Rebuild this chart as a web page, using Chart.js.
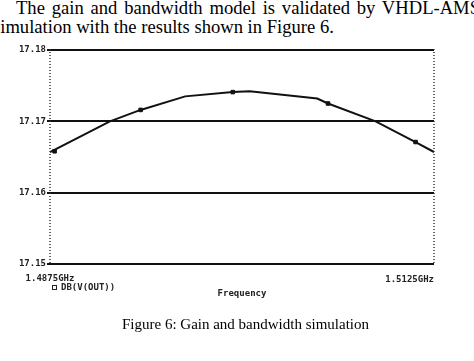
<!DOCTYPE html>
<html>
<head>
<meta charset="utf-8">
<script src="https://cdn.jsdelivr.net/npm/chart.js@4/dist/chart.umd.min.js"></script>
<style>
  html, body { margin: 0; padding: 0; background: #fff; overflow: hidden; }
  body { position: relative; width: 474px; height: 361px; }
  .serif { position: absolute; font-family: "Liberation Serif", "DejaVu Serif", serif; color: #000; white-space: nowrap; line-height: 1; }
  #line1 { left: 16px; top: -1px; width: 464px; font-size: 18.6px; text-align: justify; text-align-last: justify; }
  #line2 { left: -7px; top: 18px; font-size: 18.6px; }
  #caption { left: 0; width: 491px; top: 317px; font-size: 15px; text-align: center; }
  #chart { position: absolute; left: 0; top: 0; }
</style>
</head>
<body>
<div class="serif" id="line1">The gain and bandwidth model is validated by VHDL-AMS</div>
<div class="serif" id="line2">simulation with the results shown in Figure 6.</div>
<canvas id="chart" width="474" height="361"></canvas>
<div class="serif" id="caption">Figure 6: Gain and bandwidth simulation</div>

<script>
// curve: frequency (GHz) vs gain (dB)
const freqs = [1.4875, 1.4914, 1.4934, 1.4963, 1.4994, 1.5005, 1.5049, 1.5056, 1.5087, 1.5113, 1.5125];
const gains = [17.1657, 17.1700, 17.1716, 17.1735, 17.1741, 17.1742, 17.1732, 17.1725, 17.1700, 17.1671, 17.1657];

// square markers along the trace
const markerFreqs = [1.4878, 1.4934, 1.4994, 1.5056, 1.5113];
const markerGains = [17.1658, 17.1716, 17.1741, 17.1725, 17.1671];

const yTicks = [17.15, 17.16, 17.17, 17.18];
const xEnds = [1.4875, 1.5125];
const xEndLabels = ['1.4875GHz', '1.5125GHz'];
const legendText = 'DB(V(OUT))';
const xTitle = 'Frequency';

const monoFont = 'bold 9px "DejaVu Sans Mono", monospace';

// dotted side borders, end frequency labels, legend and axis title
const frameText = {
    id: 'frameText',
    afterDraw(chart) {
        const ctx = chart.ctx;
        const area = chart.chartArea;
        const x = chart.scales.x;
        ctx.save();

        ctx.strokeStyle = '#333';
        ctx.lineWidth = 1.5;
        ctx.setLineDash([1, 2]);
        ctx.beginPath();
        ctx.moveTo(area.left, area.top - 1);
        ctx.lineTo(area.left, area.bottom + 1);
        ctx.moveTo(area.right, area.top - 1);
        ctx.lineTo(area.right, area.bottom + 1);
        ctx.stroke();
        ctx.setLineDash([]);

        ctx.fillStyle = '#222';
        ctx.font = monoFont;
        ctx.textBaseline = 'middle';

        ctx.textAlign = 'center';
        ctx.fillText(xEndLabels[0], x.getPixelForValue(xEnds[0]), area.bottom + 15);
        ctx.textAlign = 'right';
        ctx.fillText(xEndLabels[1], x.getPixelForValue(xEnds[1]), area.bottom + 16);

        // legend
        ctx.strokeStyle = '#222';
        ctx.lineWidth = 1;
        ctx.strokeRect(area.left + 2.5, area.bottom + 21.5, 4, 4);
        ctx.textAlign = 'left';
        ctx.fillText(legendText, area.left + 11, area.bottom + 24);

        ctx.textAlign = 'center';
        ctx.fillText(xTitle, (area.left + area.right) / 2, area.bottom + 30);
        ctx.restore();
    }
};

new Chart(document.getElementById('chart'), {
    type: 'line',
    data: {
        datasets: [{
            label: legendText,
            data: freqs.map((f, i) => ({ x: f, y: gains[i] })),
            borderColor: '#111',
            borderWidth: 2,
            pointRadius: 0,
            tension: 0
        }, {
            label: 'markers',
            data: markerFreqs.map((f, i) => ({ x: f, y: markerGains[i] })),
            showLine: false,
            pointStyle: 'rect',
            pointRadius: 2.5,
            backgroundColor: '#111',
            borderColor: '#111',
            borderWidth: 1
        }]
    },
    plugins: [frameText],
    options: {
        responsive: false,
        animation: false,
        layout: {
            padding: { top: 50, left: 0, right: 40, bottom: 0 }
        },
        plugins: {
            legend: { display: false },
            tooltip: { enabled: false }
        },
        scales: {
            x: {
                type: 'linear',
                min: xEnds[0],
                max: xEnds[1],
                ticks: { display: false },
                grid: { display: false },
                border: { display: false },
                afterFit: s => { s.height = 97; }
            },
            y: {
                min: yTicks[0],
                max: yTicks[yTicks.length - 1],
                afterBuildTicks: s => { s.ticks = yTicks.map(v => ({ value: v })); },
                ticks: {
                    callback: v => v.toFixed(2),
                    font: { family: '"DejaVu Sans Mono", monospace', size: 9, weight: 'bold' },
                    color: '#222',
                    padding: 1
                },
                grid: {
                    color: '#111',
                    lineWidth: 2,
                    tickLength: 3
                },
                border: { display: false },
                afterFit: s => { s.width = 50; }
            }
        }
    }
});
</script>
</body>
</html>
